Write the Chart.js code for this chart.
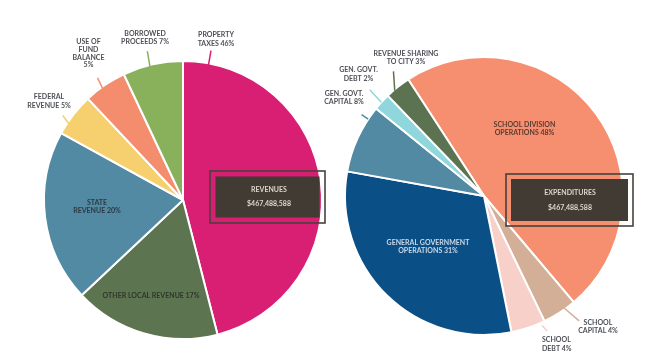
<!DOCTYPE html>
<html>
<head>
<meta charset="utf-8">
<script src="https://cdn.jsdelivr.net/npm/chart.js@4"></script>
<style>
  html, body { margin: 0; padding: 0; background: #fff; }
  #wrap { position: relative; width: 652px; height: 362px; }
  #wrap canvas { position: absolute; left: 0; top: 0; }
</style>
</head>
<body>
<div id="wrap">
  <canvas id="revenueChart" width="652" height="362"></canvas>
  <canvas id="expenditureChart" width="652" height="362"></canvas>
</div>
<script>
// data
const revenueLabels = ["Property Taxes", "Other Local Revenue", "State Revenue", "Federal Revenue", "Use of Fund Balance", "Borrowed Proceeds"];
const revenueValues = [46, 17, 20, 5, 5, 7];
const revenueCaptions = [["PROPERTY", "TAXES {v}%"], ["OTHER LOCAL REVENUE {v}%"], ["STATE", "REVENUE {v}%"], ["FEDERAL", "REVENUE {v}%"], ["USE OF", "FUND", "BALANCE", "{v}%"], ["BORROWED", "PROCEEDS {v}%"]];
const revenueTotal = "$467,488,588";

const expenditureLabels = ["School Division Operations", "School Capital", "School Debt", "General Government Operations", "Gen. Govt. Capital", "Gen. Govt. Debt", "Revenue Sharing to City"];
const expenditureValues = [48, 4, 4, 31, 8, 2, 3];
const expenditureCaptions = [["SCHOOL DIVISION", "OPERATIONS {v}%"], ["SCHOOL", "CAPITAL {v}%"], ["SCHOOL", "DEBT {v}%"], ["GENERAL GOVERNMENT", "OPERATIONS {v}%"], ["GEN. GOVT.", "CAPITAL {v}%"], ["GEN. GOVT.", "DEBT {v}%"], ["REVENUE SHARING", "TO CITY {v}%"]];
const expenditureTotal = "$467,488,588";

document.addEventListener("DOMContentLoaded", () => {
    const FONT = "bold 7px Lato, 'Open Sans', sans-serif";
    const LABEL_COLOR = "#4f5058";

    // label layout: text [dx, dy, lineGap, align, color] from pie centre,
    // leader [angle1, dr1, angle2, dr2] in degrees clockwise from top, dr relative to radius
    const revenueLayout = [
        { text: [33, -165, 8.3], leader: [10.7, -2, 10.6, 13] },
        { text: [-32, 96, 0, "center", "#30352c"] },
        { text: [-86, 2.7, 8, "center", "#2c3a44"] },
        { text: [-134, -103.3, 9.3], leader: [-57.5, -10, -54.9, 8] },
        { text: [-94.5, -158, 7.7], leader: [-36.7, -13, -35, 10] },
        { text: [-38, -166.7, 8.4], leader: [-14, -5, -13.5, 14] }
    ];
    const expenditureLayout = [
        { text: [40.5, -71.7, 8, "center", "#5a3a30"] },
        { text: [114, 127, 8], leader: [144.5, -2, 142.7, 18] },
        { text: [58, 144, 9, "left"], leader: [155.8, 3, 155, 10] },
        { text: [-56, 46.3, 8.4, "center", "#c9d8e8"] },
        { text: [-140, -102, 8], leader: [-56.4, 0, -56.4, 8] },
        { text: [-125.5, -126, 8.3], leader: [-47.6, 0, -47.1, 17] },
        { text: [-78, -142.7, 8.4], leader: [-40.3, -1, -36, 15] }
    ];

    function polar(cx, cy, deg, d) {
        const a = deg * Math.PI / 180;
        return [cx + d * Math.sin(a), cy - d * Math.cos(a)];
    }

    // plugin that draws captions, leader lines and the total box
    const pieLabels = {
        id: "pieLabels",
        afterDatasetsDraw(chart, args, opts) {
            const ctx = chart.ctx;
            const meta = chart.getDatasetMeta(0);
            const values = chart.data.datasets[0].data;
            const colors = chart.data.datasets[0].backgroundColor;
            const first = meta.data[0];
            const cx = first.x, cy = first.y, r = first.outerRadius;

            ctx.save();
            opts.layout.forEach((item, i) => {
                if (item.leader) {
                    const [a1, d1, a2, d2] = item.leader;
                    const p1 = polar(cx, cy, a1, r + d1);
                    const p2 = polar(cx, cy, a2, r + d2);
                    ctx.strokeStyle = colors[i];
                    ctx.lineWidth = 1.5;
                    ctx.beginPath();
                    ctx.moveTo(p1[0], p1[1]);
                    ctx.lineTo(p2[0], p2[1]);
                    ctx.stroke();
                }
                const [dx, dy, gap, align, color] = item.text;
                ctx.font = FONT;
                ctx.fillStyle = color || LABEL_COLOR;
                ctx.textAlign = align || "center";
                ctx.textBaseline = "middle";
                opts.captions[i].forEach((line, j) => {
                    ctx.fillText(line.replace("{v}", values[i]), cx + dx, cy + dy + j * gap);
                });
            });

            // total box
            const [x1, y1, x2, y2] = opts.box;
            const inset = opts.boxInset;
            ctx.strokeStyle = "#47413b";
            ctx.lineWidth = 1.6;
            ctx.strokeRect(cx + x1, cy + y1, x2 - x1, y2 - y1);
            ctx.fillStyle = "#413b34";
            ctx.fillRect(cx + x1 + inset, cy + y1 + inset, x2 - x1 - 2 * inset, y2 - y1 - 2 * inset);
            ctx.fillStyle = "#dcd7cb";
            ctx.textAlign = "center";
            ctx.font = FONT;
            ctx.fillText(opts.title, cx + opts.boxText[0], cy + opts.boxText[1]);
            ctx.fillText(opts.total, cx + opts.boxText[0], cy + opts.boxText[2]);
            ctx.restore();
        }
    };

    function makePie(id, labels, values, colors, rotation, padding, labelOpts) {
        return new Chart(document.getElementById(id), {
            type: "pie",
            data: {
                labels: labels,
                datasets: [{
                    data: values,
                    backgroundColor: colors,
                    borderColor: "#ffffff",
                    borderWidth: 2
                }]
            },
            options: {
                responsive: false,
                animation: false,
                rotation: rotation,
                layout: { padding: padding },
                plugins: {
                    legend: { display: false },
                    tooltip: { enabled: false },
                    pieLabels: labelOpts
                }
            },
            plugins: [pieLabels]
        });
    }

    // 1. Revenues pie
    makePie("revenueChart", revenueLabels, revenueValues,
        ["#d81f73", "#5d7451", "#5289a3", "#f6d06f", "#f48d6e", "#89b15c"],
        0, { left: 43, right: 329, top: 60, bottom: 22 },
        {
            layout: revenueLayout,
            captions: revenueCaptions,
            box: [27, -29, 142, 23], boxInset: 5.5,
            boxText: [86, -10, 4],
            title: "REVENUES", total: revenueTotal
        });

    // 2. Expenditures pie
    makePie("expenditureChart", expenditureLabels, expenditureValues,
        ["#f58f70", "#d4af97", "#f7d0c9", "#0a4f86", "#5289a3", "#8fd6dd", "#5b7350"],
        -33, { left: 344, right: 28, top: 56, bottom: 26 },
        {
            layout: expenditureLayout,
            captions: expenditureCaptions,
            box: [22, -22, 149, 30], boxInset: 5,
            boxText: [86, -3, 12],
            title: "EXPENDITURES", total: expenditureTotal
        });
});
</script>
</body>
</html>
